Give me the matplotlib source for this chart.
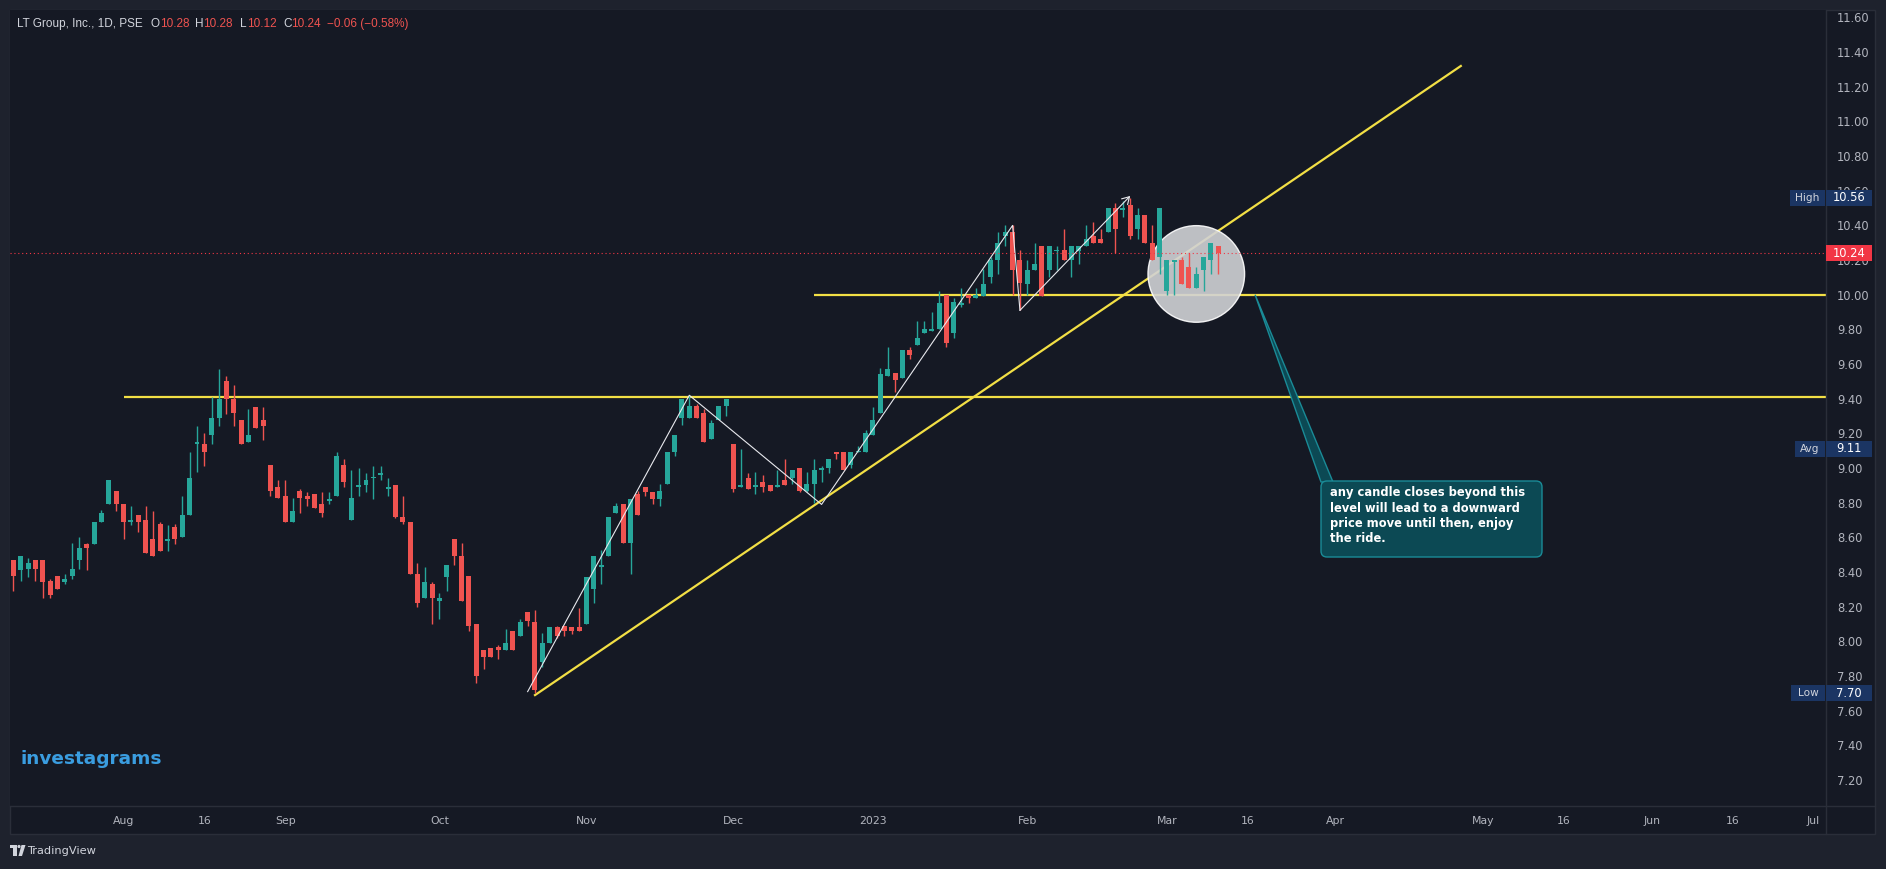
import numpy as np
import pandas as pd
import matplotlib
matplotlib.use("Agg")
import matplotlib.pyplot as plt
from matplotlib.patches import Rectangle, FancyBboxPatch, Polygon, Circle
from matplotlib.lines import Line2D
from matplotlib.transforms import IdentityTransform

W, H = 1886, 869

# ---------------- data (LT Group, Inc., 1D, PSE) ----------------
opens = [8.47, 8.41, 8.42, 8.47, 8.47, 8.35, 8.38, 8.34, 8.38, 8.47,
         8.56, 8.56, 8.69, 8.79, 8.87, 8.79, 8.69, 8.73, 8.70, 8.59,
         8.68, 8.58, 8.66, 8.60, 8.73, 9.14, 9.14, 9.19, 9.29, 9.50,
         9.40, 9.28, 9.15, 9.35, 9.28, 9.02, 8.89, 8.84, 8.69, 8.87,
         8.84, 8.85, 8.79, 8.81, 8.84, 9.02, 8.70, 8.89, 8.90, 8.94,
         8.96, 8.88, 8.90, 8.72, 8.69, 8.39, 8.25, 8.33, 8.23, 8.37,
         8.59, 8.49, 8.38, 8.10, 7.95, 7.96, 7.97, 7.95, 8.06, 8.03,
         8.17, 8.11, 7.88, 7.99, 8.08, 8.09, 8.08, 8.08, 8.10, 8.30,
         8.43, 8.49, 8.74, 8.79, 8.57, 8.85, 8.89, 8.86, 8.82, 8.91,
         9.09, 9.29, 9.29, 9.36, 9.32, 9.17, 9.28, 9.36, 9.14, 8.89,
         8.94, 8.89, 8.92, 8.90, 8.89, 8.93, 8.94, 9.00, 8.87, 8.91,
         8.99, 9.00, 9.09, 9.09, 9.02, 9.09, 9.09, 9.19, 9.32, 9.53,
         9.55, 9.52, 9.68, 9.71, 9.78, 9.79, 9.80, 10.00, 9.78, 9.94,
         10.00, 9.98, 9.99, 10.10, 10.20, 10.34, 10.36, 10.20, 10.06, 10.14,
         10.28, 10.14, 10.25, 10.26, 10.20, 10.25, 10.28, 10.34, 10.32, 10.36,
         10.50, 10.49, 10.52, 10.38, 10.46, 10.30, 10.22, 10.02, 10.19, 10.20,
         10.16, 10.04, 10.14, 10.20, 10.28]
highs = [8.47, 8.49, 8.48, 8.47, 8.47, 8.36, 8.38, 8.39, 8.57, 8.60,
         8.57, 8.69, 8.76, 8.93, 8.87, 8.79, 8.78, 8.73, 8.78, 8.75,
         8.69, 8.67, 8.68, 8.84, 9.09, 9.24, 9.20, 9.41, 9.57, 9.53,
         9.48, 9.28, 9.34, 9.35, 9.35, 9.02, 8.93, 8.93, 8.83, 8.88,
         8.86, 8.85, 8.86, 8.86, 9.09, 9.05, 8.99, 9.00, 8.97, 9.01,
         9.01, 8.94, 8.90, 8.84, 8.69, 8.45, 8.43, 8.34, 8.28, 8.44,
         8.59, 8.57, 8.38, 8.10, 7.95, 7.96, 7.98, 8.07, 8.06, 8.13,
         8.17, 8.18, 8.05, 8.08, 8.09, 8.09, 8.08, 8.19, 8.37, 8.49,
         8.53, 8.72, 8.80, 8.79, 8.82, 8.87, 8.89, 8.86, 8.91, 9.09,
         9.19, 9.40, 9.42, 9.37, 9.34, 9.28, 9.36, 9.40, 9.14, 9.11,
         8.97, 8.98, 8.96, 8.90, 8.99, 9.05, 8.99, 9.00, 8.98, 9.05,
         9.01, 9.05, 9.09, 9.09, 9.09, 9.13, 9.22, 9.35, 9.58, 9.70,
         9.55, 9.68, 9.70, 9.85, 9.85, 9.90, 10.02, 10.00, 9.98, 10.04,
         10.00, 10.04, 10.15, 10.22, 10.36, 10.40, 10.40, 10.26, 10.20, 10.30,
         10.28, 10.28, 10.28, 10.38, 10.28, 10.28, 10.40, 10.42, 10.38, 10.50,
         10.53, 10.54, 10.56, 10.50, 10.46, 10.40, 10.50, 10.20, 10.20, 10.22,
         10.24, 10.16, 10.22, 10.30, 10.28]
lows = [8.29, 8.35, 8.37, 8.35, 8.25, 8.25, 8.30, 8.33, 8.36, 8.42,
        8.41, 8.56, 8.69, 8.79, 8.75, 8.59, 8.67, 8.63, 8.51, 8.49,
        8.52, 8.52, 8.56, 8.60, 8.73, 8.98, 9.01, 9.14, 9.24, 9.31,
        9.24, 9.14, 9.15, 9.23, 9.16, 8.84, 8.83, 8.69, 8.69, 8.74,
        8.78, 8.77, 8.72, 8.79, 8.84, 8.89, 8.70, 8.84, 8.86, 8.82,
        8.93, 8.84, 8.71, 8.68, 8.39, 8.20, 8.25, 8.10, 8.13, 8.29,
        8.44, 8.23, 8.06, 7.76, 7.84, 7.91, 7.90, 7.95, 7.95, 8.03,
        8.09, 7.70, 7.85, 7.99, 8.02, 8.03, 8.04, 8.06, 8.10, 8.22,
        8.33, 8.49, 8.74, 8.57, 8.39, 8.73, 8.84, 8.79, 8.78, 8.91,
        9.07, 9.25, 9.29, 9.29, 9.15, 9.17, 9.28, 9.30, 8.86, 8.89,
        8.88, 8.85, 8.86, 8.87, 8.89, 8.90, 8.91, 8.86, 8.86, 8.80,
        8.92, 8.97, 9.05, 8.99, 9.00, 9.09, 9.09, 9.19, 9.32, 9.53,
        9.44, 9.52, 9.63, 9.71, 9.78, 9.79, 9.80, 9.70, 9.75, 9.93,
        9.95, 9.98, 9.99, 10.07, 10.12, 10.28, 10.00, 9.91, 10.00, 10.14,
        9.99, 10.10, 10.14, 10.20, 10.10, 10.18, 10.28, 10.30, 10.30, 10.36,
        10.24, 10.45, 10.32, 10.32, 10.30, 10.20, 10.12, 10.00, 10.00, 10.06,
        10.04, 10.04, 10.02, 10.12, 10.12]
closes = [8.38, 8.49, 8.45, 8.42, 8.34, 8.27, 8.30, 8.36, 8.42, 8.54,
          8.54, 8.69, 8.74, 8.93, 8.79, 8.69, 8.70, 8.69, 8.51, 8.49,
          8.52, 8.59, 8.59, 8.73, 8.94, 9.15, 9.09, 9.29, 9.40, 9.40,
          9.32, 9.14, 9.19, 9.23, 9.24, 8.87, 8.83, 8.69, 8.75, 8.83,
          8.82, 8.77, 8.74, 8.82, 9.07, 8.92, 8.83, 8.90, 8.93, 8.95,
          8.97, 8.89, 8.72, 8.69, 8.39, 8.22, 8.34, 8.25, 8.25, 8.44,
          8.49, 8.23, 8.09, 7.80, 7.91, 7.91, 7.95, 7.99, 7.95, 8.11,
          8.12, 7.72, 7.99, 8.08, 8.03, 8.06, 8.06, 8.06, 8.37, 8.49,
          8.44, 8.72, 8.78, 8.57, 8.82, 8.73, 8.86, 8.82, 8.87, 9.09,
          9.19, 9.40, 9.36, 9.29, 9.15, 9.26, 9.36, 9.40, 8.88, 8.90,
          8.88, 8.90, 8.89, 8.87, 8.90, 8.90, 8.99, 8.87, 8.91, 8.99,
          9.00, 9.05, 9.08, 8.99, 9.09, 9.10, 9.20, 9.28, 9.54, 9.57,
          9.51, 9.68, 9.65, 9.75, 9.80, 9.80, 9.95, 9.72, 9.96, 9.95,
          9.98, 10.00, 10.06, 10.20, 10.30, 10.36, 10.14, 10.07, 10.14, 10.18,
          9.99, 10.28, 10.26, 10.20, 10.28, 10.28, 10.32, 10.30, 10.30, 10.50,
          10.38, 10.50, 10.34, 10.46, 10.30, 10.20, 10.50, 10.20, 10.20, 10.06,
          10.04, 10.12, 10.22, 10.30, 10.24]

avg_price = 9.11

holidays = ["2022-08-29", "2022-09-26", "2022-10-31", "2022-11-01", "2022-11-30",
            "2022-12-08", "2022-12-26", "2022-12-30", "2023-01-02", "2023-02-24"]
hist_dates = pd.bdate_range("2022-07-11", "2023-03-10").difference(pd.DatetimeIndex(holidays))
future_dates = pd.bdate_range("2023-03-13", "2023-07-31")
dates = hist_dates.append(future_dates)

tick_dates = ["2022-08-01", "2022-08-16", "2022-09-01", "2022-10-03", "2022-11-02",
              "2022-12-01", "2023-01-03", "2023-02-01", "2023-03-01", "2023-03-16",
              "2023-04-03", "2023-05-01", "2023-05-16", "2023-06-01", "2023-06-16",
              "2023-07-03"]
tick_labels = ["Aug", "16", "Sep", "Oct", "Nov", "Dec", "2023", "Feb", "Mar", "16",
               "Apr", "May", "16", "Jun", "16", "Jul"]
price_ticks = [7.2, 7.4, 7.6, 7.8, 8.0, 8.2, 8.4, 8.6, 8.8, 9.0, 9.2, 9.4,
               9.6, 9.8, 10.0, 10.2, 10.4, 10.6, 10.8, 11.0, 11.2, 11.4, 11.6]

# drawings (date, price)
level_lines = [("2022-08-01", 9.41), ("2022-12-19", 10.00)]
trend_line = [("2022-10-20", 7.69), ("2023-04-26", 11.32)]
zigzag = [("2022-10-19", 7.71), ("2022-11-22", 9.42), ("2022-12-20", 8.79),
          ("2023-01-30", 10.40), ("2023-01-31", 9.91), ("2023-02-21", 10.57)]
circle_center = ("2023-03-07", 10.12)
callout_tip = ("2023-03-17", 10.00)
callout_text = ("any candle closes beyond this\nlevel will lead to a downward\n"
                "price move until then, enjoy\nthe ride.")

# ---------------- style ----------------
BG_OUT = "#1e222d"
BG = "#151924"
GRID_SEP = "#2a2e39"
TXT = "#b2b5be"
UP = "#26a69a"
DOWN = "#ef5350"
YEL = "#f2df45"
NAVY = "#1b3563"


def pos(d):
    return dates.get_loc(pd.Timestamp(d))


def fx(px):
    return px / W


def fy(py):
    return 1 - py / H


fig = plt.figure(figsize=(W / 100, H / 100), dpi=100, facecolor=BG_OUT)

# chart frame background
fig.add_artist(Rectangle((fx(10), fy(834)), fx(1875) - fx(10), fy(10) - fy(834),
                         transform=fig.transFigure, facecolor=BG, edgecolor=GRID_SEP,
                         lw=1, zorder=-5))

ax = fig.add_axes([fx(10), fy(806), fx(1826) - fx(10), fy(10) - fy(806)])
ax.set_facecolor(BG)
for s in ax.spines.values():
    s.set_visible(False)

ax.set_xlim(-0.45, 246.7)
ax.set_ylim(7.05, 11.643)

o = np.array(opens); h = np.array(highs); l = np.array(lows); c = np.array(closes)
x = np.arange(len(o))
col = np.where(c >= o, UP, DOWN)
ax.vlines(x, l, h, colors=col, lw=1, zorder=4)
ax.bar(x, np.maximum(np.abs(c - o), 0.006), bottom=np.minimum(o, c), width=0.68,
       color=col, linewidth=0, zorder=4)

# yellow level lines
for d, p in level_lines:
    ax.plot([pos(d), 246.7], [p, p], color=YEL, lw=1.6, zorder=2, solid_capstyle="butt")
# trend line
ax.plot([pos(trend_line[0][0]), pos(trend_line[1][0])],
        [trend_line[0][1], trend_line[1][1]], color=YEL, lw=1.6, zorder=2)
# zigzag path
zx = [pos(d) for d, _ in zigzag]
zy = [p for _, p in zigzag]
ax.plot(zx[:-1], zy[:-1], color="#e8e9ee", lw=0.8, zorder=5)
ax.annotate("", xy=(zx[-1], zy[-1]), xytext=(zx[-2], zy[-2]),
            arrowprops=dict(arrowstyle="->,head_length=0.5,head_width=0.3",
                            color="#e8e9ee", lw=0.8, shrinkA=0, shrinkB=0), zorder=5)

# last price dotted line
ax.axhline(c[-1], color="#f23645", lw=0.8, ls=(0, (1, 2.5)), zorder=5)

# grey circle (circular in pixel space), below the candles
cxp, cyp = ax.transData.transform((pos(circle_center[0]), circle_center[1]))
ax.add_patch(Circle((cxp, cyp), 48.3, transform=IdentityTransform(),
                    facecolor="#d1d2d6", alpha=0.9, edgecolor="white", lw=1, zorder=3))

# axis ticks
ax.set_xticks([pos(d) for d in tick_dates])
ax.set_xticklabels(tick_labels)
ax.tick_params(axis="x", length=0, pad=7, labelsize=7.8, labelcolor=TXT)
ax.yaxis.tick_right()
ax.set_yticks(price_ticks)
ax.set_yticklabels([f"{v:.2f}" for v in price_ticks])
ax.tick_params(axis="y", length=0, pad=8, labelsize=8.3, labelcolor=TXT)

# separators
fig.add_artist(Line2D([fx(1826), fx(1826)], [fy(10), fy(834)], color=GRID_SEP, lw=1,
                      transform=fig.transFigure))
fig.add_artist(Line2D([fx(10), fx(1875)], [fy(806), fy(806)], color=GRID_SEP, lw=1,
                      transform=fig.transFigure))

# header
hdr_y = fy(24)
fig.text(fx(17), hdr_y, "LT Group, Inc., 1D, PSE", color="#d1d4dc", fontsize=8.5,
         family="Liberation Sans", va="center")
parts = [(150.5, "O", "#d1d4dc"), (160, f"{o[-1]:.2f}", DOWN), (195, "H", "#d1d4dc"),
         (203, f"{h[-1]:.2f}", DOWN), (240, "L", "#d1d4dc"), (247, f"{l[-1]:.2f}", DOWN),
         (283, "C", "#d1d4dc"), (291, f"{c[-1]:.2f}", DOWN),
         (327, "\u22120.06 (\u22120.58%)", DOWN)]
for px, t, cl in parts:
    fig.text(fx(px), hdr_y, t, color=cl, fontsize=8.5, family="Liberation Sans", va="center")


def price_box(price, text, bg, label=None, label_x0=None):
    _, yp = ax.transData.transform((0, price))
    fig.add_artist(Rectangle((1826, yp - 8), 46, 16, transform=IdentityTransform(),
                             facecolor=bg, edgecolor="none", zorder=6))
    fig.text(1849 / W, yp / H, text, color="white", fontsize=8.3, ha="center",
             va="center", zorder=7)
    if label:
        fig.add_artist(Rectangle((label_x0, yp - 8), 1825 - label_x0, 16,
                                 transform=IdentityTransform(), facecolor=bg,
                                 edgecolor="none", zorder=6))
        fig.text((label_x0 + 1825) / 2 / W, yp / H, label, color="#d1d4dc", fontsize=7.6,
                 ha="center", va="center", zorder=7)


price_box(h.max(), f"{h.max():.2f}", NAVY, "High", 1790)
price_box(avg_price, f"{avg_price:.2f}", NAVY, "Avg", 1795)
price_box(l.min(), f"{l.min():.2f}", NAVY, "Low", 1791)
price_box(c[-1], f"{c[-1]:.2f}", "#f23645")

# callout
tx, ty = ax.transData.transform((pos(callout_tip[0]), callout_tip[1]))
box_l, box_r, box_t, box_b = 1321, 1542, 481, 557
fig.add_artist(Polygon([(tx, ty), (1321, H - box_t - 1), (1333, H - box_t - 1)],
                       closed=True, transform=IdentityTransform(), facecolor="#0c4954",
                       edgecolor="#1a8b97", lw=1, zorder=2))
fig.add_artist(FancyBboxPatch((box_l, H - box_b), box_r - box_l, box_b - box_t,
                              boxstyle="round,pad=0,rounding_size=6",
                              transform=IdentityTransform(), facecolor="#0c4954",
                              edgecolor="#1a8b97", lw=1, zorder=3))
fig.text(fx(1330), fy(486), callout_text, color="white", fontsize=8.3,
         fontweight="bold", va="top", ha="left", linespacing=1.25, zorder=4)

# watermark logo
fig.text(fx(21), fy(759), "investagrams", color="#3a9de0", fontsize=13.3,
         fontweight="bold", va="center", ha="left")

# TradingView footer
fig.add_artist(Rectangle((10, H - 848), 6.5, 3, transform=IdentityTransform(),
                         facecolor="#d1d4dc", edgecolor="none"))
fig.add_artist(Rectangle((13, H - 856), 3.5, 10, transform=IdentityTransform(),
                         facecolor="#d1d4dc", edgecolor="none"))
fig.add_artist(Circle((19, H - 846.5), 1.6, transform=IdentityTransform(),
                      facecolor="#d1d4dc", edgecolor="none"))
fig.add_artist(Polygon([(21.5, H - 845), (25.5, H - 845), (22, H - 856), (18.5, H - 856)],
                       transform=IdentityTransform(), facecolor="#d1d4dc", edgecolor="none"))
fig.text(fx(27), fy(850.5), "TradingView", color="#d1d4dc", fontsize=8.2, va="center")

fig.savefig("out.png", dpi=100, facecolor=BG_OUT)
